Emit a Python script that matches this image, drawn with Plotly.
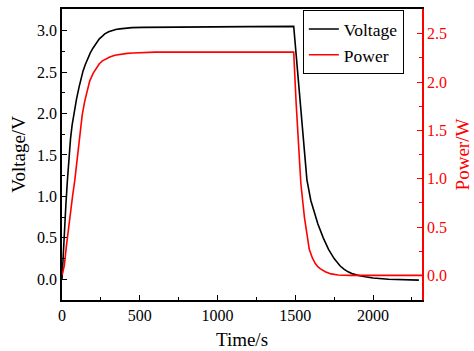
import plotly.graph_objects as go

# Voltage data (time in s, voltage in V)
t_volt = [0, 5, 10, 17, 25, 35, 45, 55, 65, 80, 93, 110, 125, 135, 150, 165, 182, 200, 220, 240, 258,
          275, 300, 320, 345, 372, 410, 450, 520, 600, 800, 1000, 1200, 1490, 1530, 1560, 1575, 1600,
          1628, 1645, 1680, 1714, 1750, 1789, 1815, 1840, 1870, 1897, 1950, 2000, 2100, 2200, 2295]
volt = [0.0, 0.2, 0.45, 0.65, 0.9, 1.2, 1.48, 1.7, 1.86, 2.04, 2.17, 2.32, 2.44, 2.51, 2.59, 2.66,
        2.73, 2.79, 2.85, 2.9, 2.93, 2.96, 2.985, 3.0, 3.012, 3.02, 3.03, 3.035, 3.038, 3.04, 3.042,
        3.045, 3.047, 3.05, 2.2, 1.55, 1.2, 0.95, 0.76, 0.67, 0.5, 0.36, 0.25, 0.16, 0.12, 0.09, 0.065,
        0.05, 0.03, 0.015, 0.0, -0.005, -0.01]

# Power data (time in s, power in W)
t_pow = [0, 8, 15, 28, 40, 54, 68, 82, 95, 105, 114, 130, 146, 162, 178, 200, 221, 240, 260, 285,
         307, 340, 380, 420, 456, 520, 600, 1000, 1490, 1505, 1520, 1536, 1559, 1575, 1590, 1610,
         1628, 1645, 1660, 1693, 1730, 1776, 1850, 2000, 2315]
power = [0.0, 0.04, 0.1, 0.3, 0.47, 0.64, 0.82, 0.98, 1.18, 1.33, 1.47, 1.66, 1.8, 1.92, 2.01, 2.09,
         2.15, 2.19, 2.22, 2.245, 2.26, 2.277, 2.29, 2.297, 2.30, 2.305, 2.31, 2.31, 2.31, 1.8, 1.35,
         0.95, 0.6, 0.42, 0.27, 0.18, 0.124, 0.09, 0.07, 0.037, 0.015, 0.004, 0.0, 0.0, 0.0]

FONT = "Liberation Serif"

fig = go.Figure()
fig.add_trace(go.Scatter(x=t_volt, y=volt, mode="lines", name="Voltage",
                         line=dict(color="black", width=1.6)))
fig.add_trace(go.Scatter(x=t_pow, y=power, mode="lines", name="Power", yaxis="y2",
                         line=dict(color="#ff0000", width=1.6)))

fig.update_layout(
    width=474, height=351,
    margin=dict(l=62, r=52, t=9, b=51, autoexpand=False),
    paper_bgcolor="white", plot_bgcolor="white",
    font=dict(family=FONT, size=16, color="black"),
    showlegend=True,
    legend=dict(x=0.669, y=0.996, xanchor="left", yanchor="top",
                bordercolor="black", borderwidth=1, bgcolor="white",
                font=dict(family=FONT, size=17.5), tracegroupgap=0, itemwidth=30),
    xaxis=dict(range=[0, 2315], dtick=500, tick0=0, showline=True, linecolor="black", linewidth=1.5,
               mirror=True, ticks="inside", ticklen=5, tickwidth=1.2, tickcolor="black",
               minor=dict(dtick=250, ticks="inside", ticklen=3, tickcolor="black"),
               showgrid=False, zeroline=False, automargin=False,
               tickfont=dict(family=FONT, size=16),
               title=dict(text="Time/s", font=dict(family=FONT, size=19), standoff=10)),
    yaxis=dict(range=[-0.25, 3.26], dtick=0.5, tick0=0, tickformat=".1f", showline=True,
               linecolor="black", linewidth=1.5, ticks="inside", ticklen=5, tickwidth=1.2,
               tickcolor="black", minor=dict(dtick=0.25, ticks="inside", ticklen=3, tickcolor="black"),
               showgrid=False, zeroline=False, automargin=False, tickfont=dict(family=FONT, size=16),
               title=dict(text="Voltage/V", font=dict(family=FONT, size=19), standoff=6)),
    yaxis2=dict(range=[-0.255, 2.756], dtick=0.5, tick0=0, tickformat=".1f", overlaying="y",
                side="right", showline=True, linecolor="#ff0000", linewidth=1.5, ticks="inside",
                ticklen=5, tickwidth=1.2, tickcolor="#ff0000",
                minor=dict(dtick=0.25, ticks="inside", ticklen=3, tickcolor="#ff0000"),
                showgrid=False, zeroline=False, automargin=False,
                tickfont=dict(family=FONT, size=16, color="#ff0000"),
                title=dict(text="Power/W", font=dict(family=FONT, size=19, color="#ff0000"), standoff=10)),
)

fig.write_html("out.html")
